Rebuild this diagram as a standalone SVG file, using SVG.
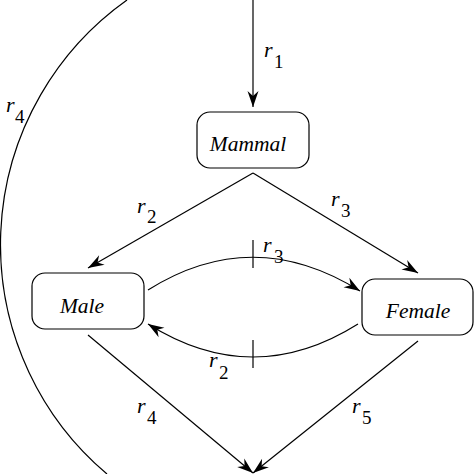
<svg xmlns="http://www.w3.org/2000/svg" width="474" height="474" viewBox="0 0 474 474">
<style>
.box{fill:#fff;stroke:#000;stroke-width:1.2}
.lbl{font-family:"Liberation Serif",serif;font-style:italic;font-size:21.5px;fill:#000;text-anchor:middle}
.r{font-family:"Liberation Serif",serif;font-style:italic;font-size:22px;fill:#000}
.s{font-family:"Liberation Serif",serif;font-size:19px;fill:#000}
.c{fill:none;stroke:#000;stroke-width:1.2}
</style>
<defs>
<marker id="ah" markerUnits="userSpaceOnUse" markerWidth="18" markerHeight="12" viewBox="-17 -6 18 12" refX="0" refY="0" orient="auto">
<path d="M0,0 L-16,-5.5 L-11,0 L-16,5.5 Z" fill="#000"/>
</marker>
</defs>
<rect width="474" height="474" fill="#fff"/>
<g id="connectors">
<path class="c" d="M253,0 L253,107" stroke="#444" marker-end="url(#ah)"/>
<path class="c" d="M253,173 L88,268" marker-end="url(#ah)"/>
<path class="c" d="M253,173 L418,273" marker-end="url(#ah)"/>
<path class="c" d="M148,290 Q253,224 360,291" marker-end="url(#ah)"/>
<path class="c" d="M358,324 Q253,390 148,324" marker-end="url(#ah)"/>
<path class="c" d="M253,240 L253,268"/>
<path class="c" d="M253,340 L253,368"/>
<path class="c" d="M88,335 L253,473" marker-end="url(#ah)"/>
<path class="c" d="M418,341 L253,473" marker-end="url(#ah)"/>
<path class="c" d="M127,0 A300,300 0 0,0 107,474"/>
</g>
<g id="labels">
<text class="r" x="264" y="57">r</text><text class="s" x="274" y="68">1</text>
<text class="r" x="137" y="213">r</text><text class="s" x="147" y="223">2</text>
<text class="r" x="331" y="206">r</text><text class="s" x="341" y="217">3</text>
<text class="r" x="263" y="252">r</text><text class="s" x="274" y="263">3</text>
<text class="r" x="209" y="367">r</text><text class="s" x="219" y="379">2</text>
<text class="r" x="137" y="413">r</text><text class="s" x="147" y="424">4</text>
<text class="r" x="352" y="413">r</text><text class="s" x="362" y="424">5</text>
<text class="r" x="6" y="112">r</text><text class="s" x="15" y="123">4</text>
</g>
<g id="mammal">
<rect class="box" x="197" y="112" width="112" height="56" rx="13"/>
<text class="lbl" x="248" y="151">Mammal</text>
</g>
<g id="male">
<rect class="box" x="32" y="273" width="112" height="56" rx="13"/>
<text class="lbl" x="82" y="313">Male</text>
</g>
<g id="female">
<rect class="box" x="362" y="279" width="111" height="56" rx="13"/>
<text class="lbl" x="418" y="318">Female</text>
</g>
</svg>
